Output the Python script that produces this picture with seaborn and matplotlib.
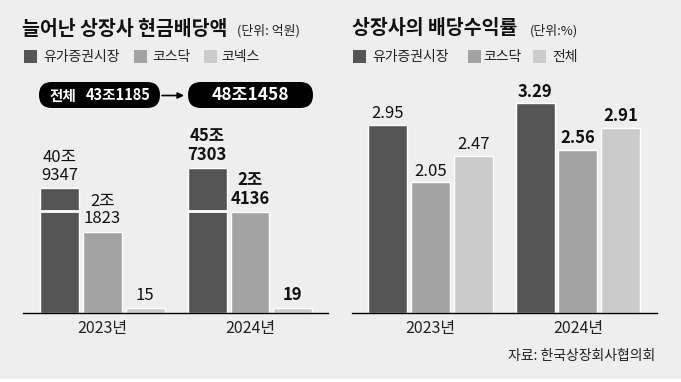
import numpy as np
import pandas as pd
import matplotlib
matplotlib.use('Agg')
import matplotlib.pyplot as plt
import seaborn as sns
from matplotlib.patches import FancyBboxPatch, Rectangle

# ---------------- data ----------------
years = ['2023년', '2024년']
div_markets = ['유가증권시장', '코스닥', '코넥스']
div_kospi = [409347, 457303]     # 억원
div_kosdaq = [21823, 24136]
div_konex = [15, 19]
total_before = '43조1185'
total_after = '48조1458'

yld_markets = ['유가증권시장', '코스닥', '전체']
yld_kospi = [2.95, 3.29]         # %
yld_kosdaq = [2.05, 2.56]
yld_total = [2.47, 2.91]

# ---------------- style ----------------
sns.set_theme(style='white')
plt.rcParams['font.family'] = ['Noto Sans CJK KR', 'DejaVu Sans']
BG = '#eeeeee'
COLORS = ['#555555', '#a3a3a3', '#cbcbcb']

W, H = 681, 382
fig = plt.figure(figsize=(W / 100, H / 100), dpi=100, facecolor=BG)

# broken-axis style display scale for the amount chart (infographic style)
KV = [0, 1, 100, 22000, 24500, 400000, 460000, 800000]
KH = [0, 4.5, 5.5, 82, 104, 121, 146, 290]
BREAK = 24300


def fwd(v):
    return np.interp(v, KV, KH)


def inv(h):
    return np.interp(h, KH, KV)


def fmt_amount(v):
    jo, rest = divmod(int(v), 10000)
    return f'{jo}조\n{rest:04d}' if jo else f'{rest}'


base_px = 313
top_px = 60
ax_h = (base_px - top_px) / H

ax1 = fig.add_axes([23 / W, (H - base_px) / H, 305 / W, ax_h])
ax2 = fig.add_axes([352 / W, (H - base_px) / H, 305 / W, ax_h])

df1 = pd.DataFrame({
    'year': years * 3,
    'market': np.repeat(div_markets, len(years)),
    'value': div_kospi + div_kosdaq + div_konex,
})
df2 = pd.DataFrame({
    'year': years * 3,
    'market': np.repeat(yld_markets, len(years)),
    'value': yld_kospi + yld_kosdaq + yld_total,
})

for ax, df, order in [(ax1, df1, div_markets), (ax2, df2, yld_markets)]:
    sns.barplot(data=df, x='year', y='value', hue='market', hue_order=order,
                order=years, palette=COLORS, width=0.87, gap=0.09,
                saturation=1, errorbar=None, legend=False, ax=ax)

ax1.set_yscale('function', functions=(fwd, inv))
ax1.set_ylim(0, inv(base_px - top_px))
ax1.set_xlim(-0.539, 1.529)
ax2.set_ylim(0, (base_px - top_px) / 63.7)
ax2.set_xlim(-0.532, 1.536)

for ax in (ax1, ax2):
    ax.set_facecolor('none')
    for s in ['top', 'right', 'left']:
        ax.spines[s].set_visible(False)
    ax.spines['bottom'].set_color('black')
    ax.spines['bottom'].set_linewidth(1.0)
    ax.yaxis.set_visible(False)
    ax.set_xlabel('')
    ax.tick_params(axis='x', length=0, pad=5, labelsize=11.5, labelcolor='#222222')

# value labels
for ci, cont in enumerate(ax1.containers):
    for i, bar in enumerate(cont):
        v = bar.get_height()
        xc = bar.get_x() + bar.get_width() / 2
        ax1.annotate(fmt_amount(v), (xc, v), xytext=(0, 3), textcoords='offset points',
                     ha='center', va='bottom', fontsize=12, linespacing=1.05,
                     fontweight='bold' if i == 1 else 'normal', color='#111111')
        if ci == 0:
            ax1.plot([bar.get_x(), bar.get_x() + bar.get_width()], [BREAK, BREAK],
                     color='white', lw=2, solid_capstyle='butt', zorder=5)

for ci, cont in enumerate(ax2.containers):
    for i, bar in enumerate(cont):
        v = bar.get_height()
        xc = bar.get_x() + bar.get_width() / 2
        ax2.annotate(f'{v:.2f}', (xc, v), xytext=(0, 2), textcoords='offset points',
                     ha='center', va='bottom', fontsize=12,
                     fontweight='bold' if i == 1 else 'normal', color='#111111')

# ---------------- overlay (titles, legends, pills) in pixel coords ----------------
ov = fig.add_axes([0, 0, 1, 1], zorder=10)
ov.set_xlim(0, W)
ov.set_ylim(H, 0)
ov.axis('off')
ov.patch.set_visible(False)

ov.add_patch(Rectangle((0, 379), W, 3, color='white', lw=0))

ov.text(22, 29, '늘어난 상장사 현금배당액', fontsize=14, fontweight='bold',
        ha='left', va='center', color='#111111')
ov.text(237, 31, '(단위: 억원)', fontsize=9.3, ha='left', va='center', color='#222222')
ov.text(352, 29, '상장사의 배당수익률', fontsize=14, fontweight='bold',
        ha='left', va='center', color='#111111')
ov.text(530, 31, '(단위:%)', fontsize=9.3, ha='left', va='center', color='#222222')

for sx, tx, lab, col in zip([24, 134, 204], [43, 152, 221], div_markets, COLORS):
    ov.add_patch(Rectangle((sx, 50), 13, 13, color=col, lw=0))
    ov.text(tx, 56.5, lab, fontsize=10, ha='left', va='center', color='#222222')
for sx, tx, lab, col in zip([353, 468, 533], [372, 483, 552], yld_markets, COLORS):
    ov.add_patch(Rectangle((sx, 50), 13, 13, color=col, lw=0))
    ov.text(tx, 56.5, lab, fontsize=10, ha='left', va='center', color='#222222')

for x0, x1 in [(39, 160), (188, 313)]:
    ov.add_patch(FancyBboxPatch((x0, 82), x1 - x0, 26,
                                boxstyle='round,pad=0,rounding_size=13',
                                fc='black', ec='none'))
ov.text(50, 95.5, '전체', fontsize=10.5, fontweight='bold', color='white',
        ha='left', va='center')
ov.text(86, 95.5, total_before, fontsize=10.5, fontweight='bold', color='white',
        ha='left', va='center')
ov.text(250.5, 95.5, total_after, fontsize=12.5, fontweight='bold', color='white',
        ha='center', va='center')
ov.annotate('', xy=(184, 95.5), xytext=(162, 95.5),
            arrowprops=dict(arrowstyle='-|>', color='black', lw=1.2,
                            mutation_scale=9, shrinkA=0, shrinkB=0))

ov.text(655, 356, '자료: 한국상장회사협의회', fontsize=10, ha='right', va='center',
        color='#222222')

fig.savefig('out.png', dpi=100, facecolor=BG)
